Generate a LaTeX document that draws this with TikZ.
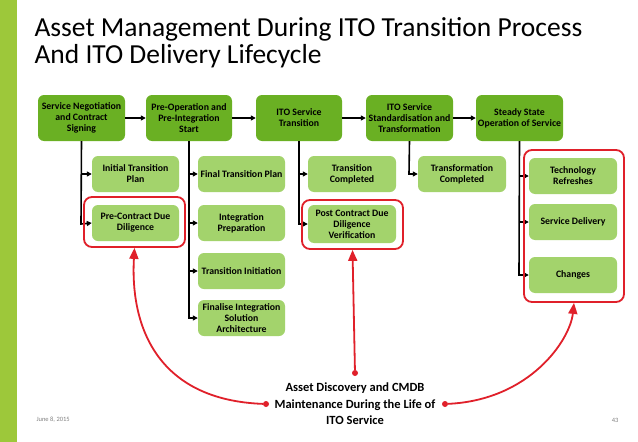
\documentclass[tikz,border=0pt]{standalone}
\usepackage{fontspec}
\setmainfont{Carlito}
\usetikzlibrary{arrows.meta}
\definecolor{dg}{HTML}{6AB023}
\definecolor{lg}{HTML}{A3D36C}
\definecolor{rd}{HTML}{E0202A}
\definecolor{bar}{HTML}{9DC83A}
\begin{document}
\begin{tikzpicture}[x=1pt,y=-1pt,
 top/.style={fill=dg,rounded corners=6pt,align=center,font=\bfseries\fontsize{9.8}{11}\selectfont,inner sep=0pt},
 sub/.style={fill=lg,rounded corners=6pt,align=center,font=\bfseries\fontsize{9.8}{11}\selectfont,inner sep=0pt},
 hl/.style={draw=rd,line width=1.8pt,rounded corners=8pt},
 ar/.style={-{Triangle[length=5pt,width=5pt]},line width=1.6pt},
 ra/.style={-{Triangle[length=11pt,width=9pt]},rd,line width=1.8pt},
 dot/.style={circle,fill=rd,inner sep=0pt,minimum size=6pt}]
\useasboundingbox (0,0) rectangle (638,442);
\fill[white] (0,0) rectangle (638,442);
\fill[bar] (0,0) rectangle (17,442);
\node[anchor=west,font=\fontsize{27.5}{28}\selectfont] (t1) at (31,29) {Asset Management During ITO Transition Process};
\node[anchor=west,font=\fontsize{27.5}{28}\selectfont] (t2) at (31,56) {And ITO Delivery Lifecycle};
\newcommand{\bx}[6]{\node[#1,minimum width=#4pt,minimum height=#5pt] (#2) at (#3) {#6};}
\bx{top}{a}{81.5,118}{87}{46}{Service Negotiation\\and Contract\\Signing}
\bx{top}{b}{189,118}{86}{46}{Pre-Operation and\\Pre-Integration\\Start}
\bx{top}{c}{299,118}{86}{46}{ITO Service\\Transition}
\bx{top}{d}{409.5,118}{87}{46}{ITO Service\\Standardisation and\\Transformation}
\bx{top}{e}{519.5,118}{87}{46}{Steady State\\Operation of Service}
\bx{sub}{a1}{135.5,174}{87}{36}{Initial Transition\\Plan}
\bx{sub}{a2}{135.5,223}{87}{36}{Pre-Contract Due\\Diligence}
\bx{sub}{b1}{241.5,174}{87}{36}{Final Transition Plan}
\bx{sub}{b2}{241.5,223}{87}{36}{Integration\\Preparation}
\bx{sub}{b3}{241.5,271}{87}{36}{Transition Initiation}
\bx{sub}{b4}{241.5,318}{87}{36}{Finalise Integration\\Solution\\Architecture}
\bx{sub}{c1}{352,174}{88}{36}{Transition\\Completed}
\bx{sub}{c2}{352,224}{88}{38}{Post Contract Due\\Diligence\\Verification}
\bx{sub}{d1}{462,174}{88}{36}{Transformation\\Completed}
\bx{sub}{e1}{573,176}{88}{36}{Technology\\Refreshes}
\bx{sub}{e2}{573,222}{88}{36}{Service Delivery}
\bx{sub}{e3}{573,275}{88}{36}{Changes}
\draw[ar] (a) -- (b); \draw[ar] (b) -- (c); \draw[ar] (c) -- (d); \draw[ar] (d) -- (e);
\draw[ar] (a.south) -- (81,224) -- (a2.west);
\draw[ar] (81,174) -- (a1.west);
\draw[ar] (b.south) -- (189,318) -- (b4.west);
\foreach \n in {b1,b2,b3} \draw[ar] (189,0|-\n.west) -- (\n.west);
\draw[ar] (c.south) -- (299,224) -- (c2.west);
\draw[ar] (299,174) -- (c1.west);
\draw[ar] (d.south) -- (409,174) -- (d1.west);
\draw[ar] (e.south) -- (519,275) -- (e3.west);
\foreach \n in {e1,e2} \draw[ar] (519,0|-\n.west) -- (\n.west);
\node[hl,minimum width=101pt,minimum height=50pt] (h1) at (134.5,222) {};
\node[hl,minimum width=101pt,minimum height=49pt] (h2) at (352.5,224.5) {};
\node[hl,minimum width=100pt,minimum height=152pt] (h3) at (574,226) {};
\node[align=center,font=\bfseries\fontsize{12.5}{16.5}\selectfont] (m) at (355,404) {Asset Discovery and CMDB\\Maintenance During the Life of\\ITO Service};
\node[dot] (p1) at (266,404) {};
\node[dot] (p2) at (445,404) {};
\node[dot] (p3) at (355,373) {};
\draw[ra] (p1) .. controls (160,400) and (130,330) .. (h1.south);
\draw[ra] (p3) -- (h2.south);
\draw[ra] (p2) .. controls (530,400) and (570,340) .. (h3.south);
\node[anchor=west,font=\fontsize{6.5}{7}\selectfont,text=gray] (dt) at (33,420) {June 8, 2015};
\node[anchor=east,font=\fontsize{6.5}{7}\selectfont,text=gray] (pg) at (622,420) {43};
\end{tikzpicture}
\end{document}
